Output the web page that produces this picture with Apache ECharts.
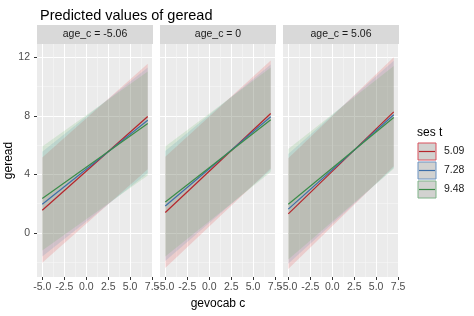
<!DOCTYPE html>
<html>
<head>
<meta charset="utf-8">
<script src="https://cdn.jsdelivr.net/npm/echarts@6/dist/echarts.min.js"></script>
<style>
	html, body { margin: 0; padding: 0; background: #fff; }
	#chart { width: 474px; height: 316px; }
</style>
</head>
<body>
<div id="chart"></div>
<script>
const panelTitles = ["age_c = -5.06", "age_c = 0", "age_c = 5.06"];
const sesLabels = ["5.09", "7.28", "9.48"];
const xValues = [-5, 7];

// predicted values per panel, one row per ses group (5.09, 7.28, 9.48)
const fitAgeLow = [[1.56, 7.95], [1.97, 7.70], [2.35, 7.48]];
const fitAgeMid = [[1.40, 8.16], [1.85, 7.93], [2.12, 7.73]];
const fitAgeHigh = [[1.31, 8.27], [1.63, 8.07], [1.97, 7.88]];

// confidence bands
const lowerAgeLow = [[-2.03, 4.35], [-1.60, 4.10], [-1.20, 3.93]];
const upperAgeLow = [[5.15, 11.55], [5.55, 11.30], [5.90, 11.03]];
const lowerAgeMid = [[-2.39, 4.40], [-1.90, 4.30], [-1.60, 4.16]];
const upperAgeMid = [[5.20, 11.78], [5.60, 11.50], [5.90, 11.30]];
const lowerAgeHigh = [[-2.46, 4.55], [-2.10, 4.45], [-1.80, 4.39]];
const upperAgeHigh = [[5.10, 12.00], [5.40, 11.75], [5.74, 11.40]];

const xTicks = [-5, -2.5, 0, 2.5, 5, 7.5];
const xMinorTicks = [-3.75, -1.25, 1.25, 3.75, 6.25];
const yTicks = [0, 4, 8, 12];
const yMinorTicks = [-2, 2, 6, 10];

function predictionChart() {
	let dom = document.getElementById("chart");
	let myChart = echarts.init(dom, null, { renderer: "canvas" });

	const fits = [fitAgeLow, fitAgeMid, fitAgeHigh];
	const lowers = [lowerAgeLow, lowerAgeMid, lowerAgeHigh];
	const uppers = [upperAgeLow, upperAgeMid, upperAgeHigh];

	const lineColors = ["#b5262c", "#3c6ea8", "#3a8c48"];
	const bandColors = ["rgba(228,26,28,0.15)", "rgba(55,126,184,0.15)", "rgba(77,175,74,0.15)"];
	const keyColors = ["#d9505c", "#6a93c2", "#7fb388"];

	const font = "Liberation Sans, Arial, sans-serif";
	const panelLeft = [37, 160, 283];
	const panelWidth = 116;
	const panelTop = 44;
	const panelHeight = 233;

	let grids = [], xAxes = [], yAxes = [], series = [], graphics = [];

	panelLeft.forEach((left, i) => {
		grids.push({
			left: left, top: panelTop, width: panelWidth, height: panelHeight,
			show: true, backgroundColor: "#ebebeb", borderWidth: 0,
		});
		// main x axis
		xAxes.push({
			type: "value", gridIndex: i, min: -5.6, max: 7.6, position: "bottom",
			axisLine: { show: false, onZero: false },
			axisTick: { show: true, length: 3, customValues: xTicks, lineStyle: { color: "#333" } },
			axisLabel: {
				customValues: xTicks, color: "#4d4d4d", fontSize: 10.5, fontFamily: font, margin: 5,
				formatter: (v) => v.toFixed(1),
			},
			splitLine: { show: true, lineStyle: { color: "#fff", width: 1 } },
			name: i === 1 ? "gevocab c" : "",
			nameLocation: "middle", nameGap: 20,
			nameTextStyle: { color: "#000", fontSize: 12, fontFamily: font },
		});
		// minor x grid
		xAxes.push({
			type: "value", gridIndex: i, min: -5.6, max: 7.6, position: "bottom",
			axisLine: { show: false, onZero: false },
			axisTick: { show: false, customValues: xMinorTicks },
			axisLabel: { show: false, customValues: xMinorTicks },
			splitLine: { show: true, lineStyle: { color: "#f7f7f7", width: 0.6 } },
		});
		yAxes.push({
			type: "value", gridIndex: i, min: -3, max: 12.9, position: "left",
			axisLine: { show: false, onZero: false },
			axisTick: { show: i === 0, length: 3, customValues: yTicks, lineStyle: { color: "#333" } },
			axisLabel: { show: i === 0, customValues: yTicks, color: "#4d4d4d", fontSize: 10.5, fontFamily: font, margin: 7 },
			splitLine: { show: true, lineStyle: { color: "#fff", width: 1 } },
			name: i === 0 ? "geread" : "",
			nameLocation: "middle", nameGap: 21, nameRotate: 90,
			nameTextStyle: { color: "#000", fontSize: 12, fontFamily: font },
		});
		yAxes.push({
			type: "value", gridIndex: i, min: -3, max: 12.9, position: "left",
			axisLine: { show: false, onZero: false },
			axisTick: { show: false, customValues: yMinorTicks },
			axisLabel: { show: false, customValues: yMinorTicks },
			splitLine: { show: true, lineStyle: { color: "#f7f7f7", width: 0.6 } },
		});

		// ribbons
		for (let g = 0; g < 3; g++) {
			const lo = lowers[i][g], hi = uppers[i][g];
			series.push({
				type: "custom", xAxisIndex: 2 * i, yAxisIndex: 2 * i, silent: true, clip: true,
				data: [[xValues[0], lo[0]]],
				renderItem: function (params, api) {
					const top = xValues.map((x, k) => api.coord([x, hi[k]]));
					const bottom = xValues.map((x, k) => api.coord([x, lo[k]])).reverse();
					return { type: "polygon", shape: { points: top.concat(bottom) }, style: { fill: bandColors[g] } };
				},
			});
		}
		// fitted lines
		for (let g = 0; g < 3; g++) {
			series.push({
				type: "line", xAxisIndex: 2 * i, yAxisIndex: 2 * i, silent: true,
				data: xValues.map((x, k) => [x, fits[i][g][k]]),
				symbol: "none",
				lineStyle: { color: lineColors[g], width: 1.2 },
			});
		}

		// facet strip
		graphics.push({
			type: "rect", left: left, top: 25,
			shape: { width: panelWidth, height: 19 },
			style: { fill: "#d9d9d9" },
		});
		graphics.push({
			type: "text", x: left + panelWidth / 2, y: 34.5,
			style: { text: panelTitles[i], fill: "#1a1a1a", font: "10.5px " + font, align: "center", verticalAlign: "middle" },
		});
	});

	// legend
	graphics.push({
		type: "text", x: 417, y: 133,
		style: { text: "ses t", fill: "#000", font: "12px " + font, verticalAlign: "middle" },
	});
	sesLabels.forEach((lab, g) => {
		const y = 143 + g * 19;
		graphics.push({
			type: "rect", x: 418, y: y,
			shape: { width: 18, height: 17 },
			style: { fill: "#d2d2d0", stroke: keyColors[g], lineWidth: 1 },
		});
		graphics.push({
			type: "line", shape: { x1: 419, y1: y + 8.5, x2: 435, y2: y + 8.5 },
			style: { stroke: lineColors[g], lineWidth: 1.2 },
		});
		graphics.push({
			type: "text", x: 444, y: y + 8.5,
			style: { text: lab, fill: "#1a1a1a", font: "10.5px " + font, verticalAlign: "middle" },
		});
	});

	let option = {
		animation: false,
		title: {
			text: "Predicted values of geread", left: 35, top: 3,
			textStyle: { color: "#000", fontSize: 14.5, fontWeight: "normal", fontFamily: font },
		},
		grid: grids,
		xAxis: xAxes,
		yAxis: yAxes,
		series: series,
		graphic: graphics,
	};

	myChart.setOption(option);
	window.addEventListener("resize", myChart.resize);
}

(function init() {
	predictionChart();
})();
</script>
</body>
</html>
